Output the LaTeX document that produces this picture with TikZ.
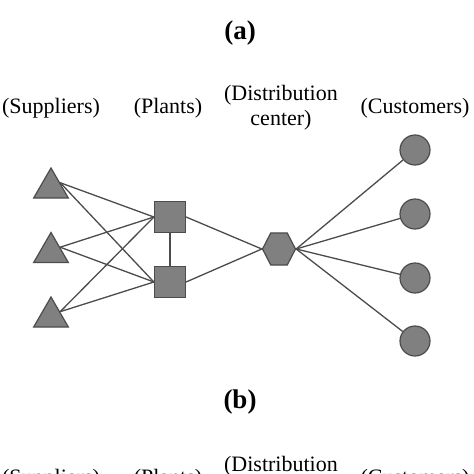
\documentclass[tikz,border=0pt]{standalone}
\usepackage{fontspec}
\setmainfont{Liberation Serif}
\usetikzlibrary{shapes.geometric}
\begin{document}
\begin{tikzpicture}[x=1pt,y=-1pt]
        \tikzstyle{label} = [font=\fontsize{22}{25}\selectfont, align=center]
        \tikzstyle{caption} = [font=\fontsize{27}{30}\selectfont\bfseries]
        \tikzstyle{supplier} = [regular polygon, regular polygon sides=3, draw=black!70, fill=black!50, line width=1.2pt, minimum size=40pt, inner sep=0pt]
        \tikzstyle{plant} = [rectangle, draw=black!70, fill=black!50, line width=1.2pt, minimum size=31pt, inner sep=0pt]
        \tikzstyle{center} = [regular polygon, regular polygon sides=6, draw=black!70, fill=black!50, line width=1.2pt, minimum size=33pt, inner sep=0pt, yscale=1.12]
        \tikzstyle{customer} = [circle, draw=black!70, fill=black!50, line width=1.2pt, minimum size=30pt, inner sep=0pt]
        \tikzstyle{link} = [draw=black!70, line width=1.3pt]

        \clip (0,0) rectangle (474,474);
        \fill[white] (0,0) rectangle (474,474);

        % part (a)
        \node (capa) [caption] at (240,33) {(a)};
        \node (lsup) [label] at (51,108) {(Suppliers)};
        \node (lpla) [label] at (168,108) {(Plants)};
        \node (ldis) [label] at (281,108) {(Distribution\\center)};
        \node (lcus) [label] at (415,108) {(Customers)};

        \node (s1) [supplier] at (51,188) {};
        \node (s2) [supplier] at (51,252.5) {};
        \node (s3) [supplier] at (51,317) {};
        \node (p1) [plant] at (170,217) {};
        \node (p2) [plant] at (170,282) {};
        \node (dc) [center] at (279,249) {};
        \node (c1) [customer] at (415,150) {};
        \node (c2) [customer] at (415,214) {};
        \node (c3) [customer] at (415,278) {};
        \node (c4) [customer] at (415,341) {};

        \foreach \s in {s1,s2,s3}
            \foreach \p in {p1,p2}
                \draw [link] (\s.side 3) -- (\p.west);
        \draw [link] (p1) -- (p2);
        \draw [link] (p1.east) -- (dc.west);
        \draw [link] (p2.east) -- (dc.west);
        \foreach \c in {c1,c2,c3,c4}
            \draw [link] (dc.east) -- (\c);

        % part (b)
        \node (capb) [caption] at (240,402) {(b)};
        \node (bsup) [label] at (51,479) {(Suppliers)};
        \node (bpla) [label] at (168,479) {(Plants)};
        \node (bdis) [label] at (281,479) {(Distribution\\center)};
        \node (bcus) [label] at (415,479) {(Customers)};
    \end{tikzpicture}
\end{document}
